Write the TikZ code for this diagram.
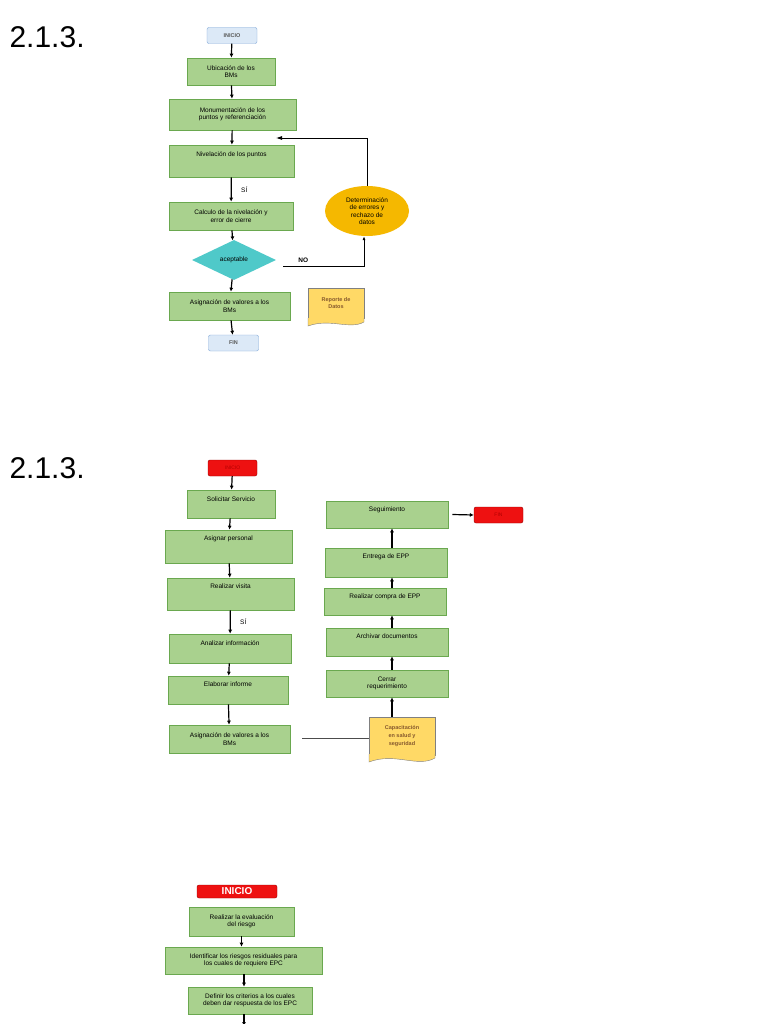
\documentclass[tikz,border=0pt]{standalone}
\usepackage{fontspec}
\setmainfont{Liberation Sans}
\usetikzlibrary{shapes.geometric,arrows.meta}
\definecolor{gfill}{HTML}{A9D18E}
\definecolor{gdraw}{HTML}{6AA84F}
\definecolor{bfill}{HTML}{DCE9F7}
\definecolor{bdraw}{HTML}{7FA7D8}
\definecolor{rfill}{HTML}{EE1111}
\definecolor{yfill}{HTML}{FFD966}
\definecolor{ofill}{HTML}{F5B800}
\definecolor{cfill}{HTML}{4FC9C9}
\begin{document}
\begin{tikzpicture}[x=1pt,y=-1pt,
 font=\fontsize{6.5}{7.5}\selectfont,
 box/.style={draw=gdraw,fill=gfill,line width=0.6pt,align=center,inner sep=1pt},
 bterm/.style={draw=bdraw,fill=bfill,rounded corners=2pt,font=\fontsize{5.5}{6}\selectfont\bfseries,text=gray!70!black,minimum width=50pt,minimum height=16pt},
 rterm/.style={draw=red!60!black,fill=rfill,rounded corners=2pt,font=\fontsize{5}{6}\selectfont,text=red!70!black,minimum width=49pt,minimum height=16pt},
 arr/.style={-{Latex[length=4pt,width=4pt]},line width=1.2pt},
 doc/.style={draw=gray,fill=yfill,font=\fontsize{5.5}{6.5}\selectfont\bfseries,text=brown!70!black,align=center},
 title/.style={font=\fontsize{30}{32}\selectfont,anchor=west}]
\useasboundingbox (0,0) rectangle (768,1024);
\fill[white] (0,0) rectangle (768,1024);
% ---------- chart 1
\node[title] (t1) at (6,37) {2.1.3.};
\node[bterm] (i1) at (232,35.5) {INICIO};
\node[box,minimum width=88pt,minimum height=27pt] (a1) at (231,71.5) {Ubicación de los\\BMs};
\node[box,minimum width=127pt,minimum height=31pt] (a2) at (232.5,114.5) {Monumentación de los\\puntos y referenciación};
\node[box,minimum width=125pt,minimum height=32pt,label={[anchor=north,yshift=-3pt]north:Nivelación de los puntos}] (a3) at (231.5,161) {};
\node[box,minimum width=124pt,minimum height=28pt] (a4) at (231,216) {Calculo de la nivelación y\\error de cierre};
\node[diamond,fill=cfill,minimum width=84pt,minimum height=40pt,aspect=2.1,inner sep=0pt] (d1) at (234,260) {aceptable};
\node[box,minimum width=121pt,minimum height=28pt] (a5) at (229.5,306) {Asignación de valores a los\\BMs};
\node[bterm] (f1) at (233.5,343) {FIN};
\node[ellipse,fill=ofill,minimum width=84pt,minimum height=50pt,align=center,inner sep=0pt] (e1) at (367,211) {Determinación\\de errores y\\rechazo de\\datos};
\node[doc,minimum width=56pt,minimum height=30pt] (r1) at (336,303) {Reporte de\\Datos};
\fill[yfill] (308,318) -- (364,318) -- (364,322) .. controls (350,330) and (330,318) .. (308,326) -- cycle;
\draw[gray] (364,318) -- (364,322) .. controls (350,330) and (330,318) .. (308,326) -- (308,318);
\draw[arr] (i1) -- (a1);
\draw[arr] (a1) -- (a2);
\draw[arr] (a2) -- (a3);
\draw[arr] (a3) -- node[right=6pt,font=\fontsize{6.5}{7}\selectfont]{SÍ} (a4);
\draw[arr] (a4) -- (d1);
\draw[arr] (d1) -- (a5);
\draw[arr] (a5) -- (f1);
\coordinate (no1) at (283,266);
\draw[-{Latex[length=4pt,width=3pt]},line width=0.8pt] (no1) -- node[above,pos=0.25,font=\fontsize{6.5}{7}\selectfont\bfseries]{NO} (364,266) -- (e1.south -| 364,0);
\coordinate (bk) at (276,138);
\draw[-{Latex[length=6pt,width=4pt]},line width=0.8pt] (e1.north) -- (367,138) -- (bk);
% ---------- chart 2
\node[title] (t2) at (6,468) {2.1.3.};
\node[rterm] (i2) at (232.5,468) {INICIO};
\node[box,minimum width=88pt,minimum height=28pt,label={[anchor=north,yshift=-4pt]north:Solicitar Servicio}] (b1) at (231,504) {};
\node[box,minimum width=127pt,minimum height=33pt,label={[anchor=north,yshift=-3pt]north:Asignar personal}] (b2) at (228.5,546.5) {};
\node[box,minimum width=127pt,minimum height=32pt,label={[anchor=north,yshift=-3pt]north:Realizar visita}] (b3) at (230.5,594) {};
\node[box,minimum width=122pt,minimum height=29pt,label={[anchor=north,yshift=-3pt]north:Analizar información}] (b4) at (230,648.5) {};
\node[box,minimum width=120pt,minimum height=28pt,label={[anchor=north,yshift=-3pt]north:Elaborar informe}] (b5) at (228,690) {};
\node[box,minimum width=121pt,minimum height=28pt] (b6) at (229.5,739) {Asignación de valores a los\\BMs};
\node[box,minimum width=122pt,minimum height=27pt,label={[anchor=north,yshift=-3pt]north:Seguimiento}] (c1) at (387,514.5) {};
\node[rterm] (f2) at (498.5,515) {FIN};
\node[box,minimum width=122pt,minimum height=29pt,label={[anchor=north,yshift=-3pt]north:Entrega de EPP}] (c2) at (386,562.5) {};
\node[box,minimum width=122pt,minimum height=27pt,label={[anchor=north,yshift=-3pt]north:Realizar compra de EPP}] (c3) at (385,601.5) {};
\node[box,minimum width=122pt,minimum height=28pt,label={[anchor=north,yshift=-3pt]north:Archivar documentos}] (c4) at (387,642) {};
\node[box,minimum width=122pt,minimum height=27pt] (c5) at (387,683.5) {Cerrar\\requerimiento};
\node[doc,minimum width=66pt,minimum height=38pt,font=\fontsize{5.5}{8}\selectfont\bfseries] (r2) at (402,736) {Capacitación\\en salud y\\seguridad};
\fill[yfill] (369,754) -- (435,754) -- (435,758) .. controls (418,768) and (395,752) .. (369,762) -- cycle;
\draw[gray] (435,754) -- (435,758) .. controls (418,768) and (395,752) .. (369,762) -- (369,754);
\draw[arr] (i2) -- (b1);
\draw[arr] (b1) -- (b2);
\draw[arr] (b2) -- (b3);
\draw[arr] (b3) -- node[right=6pt,font=\fontsize{6.5}{7}\selectfont]{SÍ} (b4);
\draw[arr] (b4) -- (b5);
\draw[arr] (b5) -- (b6);
\draw[gray!60!black,line width=0.8pt] (302,738) -- (r2.west |- 0,738);
\draw[arr] (r2.north -| 392,0) -- (c5.south -| 392,0);
\draw[arr] (c5.north -| 392,0) -- (c4.south -| 392,0);
\draw[arr] (c4.north -| 392,0) -- (c3.south -| 392,0);
\draw[arr] (c3.north -| 392,0) -- (c2.south -| 392,0);
\draw[arr] (c2.north -| 392,0) -- (c1.south -| 392,0);
\draw[arr] (c1.east) ++(4,0) -- (f2.west);
% ---------- chart 3
\node[draw=red!60!black,fill=rfill,rounded corners=2pt,minimum width=80pt,minimum height=13pt,inner sep=0pt,text=white,font=\fontsize{10}{11}\selectfont\bfseries] (i3) at (237,891.5) {INICIO};
\node[box,minimum width=105pt,minimum height=29pt] (g1) at (241.5,921.5) {Realizar la evaluación\\del riesgo};
\node[box,minimum width=157pt,minimum height=27pt] (g2) at (243.5,960.5) {Identificar los riesgos residuales para\\los cuales de requiere EPC};
\node[box,minimum width=124pt,minimum height=27pt] (g3) at (250,1000.5) {Definir los criterios a los cuales\\deben dar respuesta de los EPC};
\coordinate (g4) at (244,1026);
\draw[arr] (g1) -- (g1 |- g2.north);
\draw[arr] (g2.south -| 244,0) -- (g3.north -| 244,0);
\draw[arr] (g3.south -| 244,0) -- (g4);
\end{tikzpicture}
\end{document}
